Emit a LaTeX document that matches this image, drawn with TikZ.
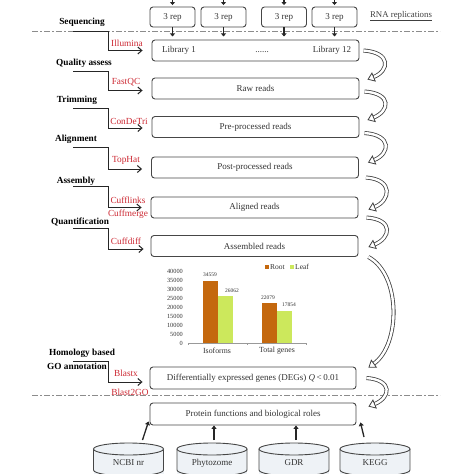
\documentclass[tikz,border=0pt]{standalone}
\usepackage{fontspec}
\setmainfont{Liberation Serif}
\usetikzlibrary{arrows.meta,calc}
\definecolor{rootc}{RGB}{196,104,14}
\definecolor{leafc}{RGB}{204,232,92}
\definecolor{toolred}{RGB}{204,40,50}
\definecolor{boxgray}{RGB}{70,70,70}
\definecolor{cylfill}{RGB}{238,242,246}
\begin{document}
\begin{tikzpicture}[x=1pt,y=-1pt,
  box/.style={draw=boxgray, line width=0.9pt, rounded corners=3pt, minimum width=207pt, minimum height=21pt, inner sep=0pt, font=\fontsize{9}{10}\selectfont, text=black!80},
  repbox/.style={box, minimum width=45pt, minimum height=20pt},
  steplab/.style={font=\bfseries\fontsize{9.3}{10}\selectfont, inner sep=0pt},
  tool/.style={text=toolred, font=\fontsize{9.3}{10}\selectfont, inner sep=0pt},
  stepline/.style={draw=black!85, line width=1pt, -{Straight Barb[length=4pt,width=7pt]}},
  hollow/.style={draw=black!75, double=white, double distance=2.4pt, line width=0.8pt, -{Triangle[open,length=7pt,width=10pt]}},
  reparrow/.style={draw=black!85, line width=1.6pt, -{Triangle[length=3pt,width=5pt]}},
  dbarrow/.style={draw=black!85, line width=1.3pt, -{Triangle[length=3.5pt,width=5pt]}},
  sepline/.style={draw=black!45, line width=0.8pt, dash pattern=on 6pt off 2pt on 2pt off 2pt},
  ticklab/.style={font=\fontsize{6.3}{7}\selectfont, inner sep=0pt, anchor=east, text=black!80},
  datalab/.style={font=\fontsize{5.5}{6}\selectfont, inner sep=0pt, text=black!80},
  catlab/.style={font=\fontsize{7.8}{9}\selectfont, inner sep=0pt, text=black!80},
  cyltext/.style={font=\fontsize{9}{10}\selectfont, inner sep=0pt, text=black!80}
]
\clip (0,0) rectangle (474,474);
\useasboundingbox (0,0) rectangle (474,474);

% separators
\draw[sepline] (32,31) -- (440,31);
\draw[sepline] (32,395) -- (440,395);

% replication boxes
\node[repbox] (rep1) at (172.5,17) {3 rep};
\node[repbox] (rep2) at (223.5,17) {3 rep};
\node[repbox] (rep3) at (284,17) {3 rep};
\node[repbox] (rep4) at (334.5,17) {3 rep};
\node[font=\fontsize{8.8}{10}\selectfont, text=black!75, inner sep=0pt] (rna) at (401,16) {\underline{RNA replications}};

\foreach \r in {rep1,rep2,rep3,rep4}{
  \coordinate (\r top) at ($(\r.north)+(0,-8)$);
  \draw[reparrow, shorten >=1.5pt] (\r top) -- (\r.north);
  \coordinate (\r bot) at ($(\r.south)+(0,9)$);
  \draw[reparrow] (\r.south) -- (\r bot);
}

% main boxes
\node[box] (lib) at (255.5,50.5) {};
\node[inner sep=0pt, font=\fontsize{9}{10}\selectfont, text=black!80] (lib1) at (179,50.5) {Library 1};
\node[inner sep=0pt, font=\fontsize{9}{10}\selectfont, text=black!80] (libd) at (262,52) {......};
\node[inner sep=0pt, font=\fontsize{9}{10}\selectfont, text=black!80] (lib12) at (332,50.5) {Library 12};
\node[box] (raw) at (255.5,88.5) {Raw reads};
\node[box] (pre) at (255.5,127) {Pre-processed reads};
\node[box] (post) at (255,167.5) {Post-processed reads};
\node[box] (ali) at (254.5,207.5) {Aligned reads};
\node[box] (ass) at (254.5,246) {Assembled reads};
\node[box, minimum width=206pt, minimum height=22pt] (deg) at (253,378) {Differentially expressed genes (DEGs) \textit{Q}\,<\,0.01};
\node[box, minimum width=206pt, minimum height=22pt] (prot) at (253,414) {Protein functions and biological roles};

% step labels
\node[steplab] (l1) at (82,22) {Sequencing};
\node[steplab] (l2) at (84,63) {Quality assess};
\node[steplab] (l3) at (77,100) {Trimming};
\node[steplab] (l4) at (76,139) {Alignment};
\node[steplab] (l5) at (76,181) {Assembly};
\node[steplab] (l6) at (80,222) {Quantification};
\node[steplab] (l7) at (82,353) {Homology based};
\node[steplab] (l8) at (77,366) {GO annotation};

% tools
\node[tool] (t1) at (127,43) {Illumina};
\node[tool] (t2) at (126,82) {FastQC};
\node[tool] (t3) at (129,121) {ConDeTri};
\node[tool] (t4) at (126,160) {TopHat};
\node[tool] (t5) at (128,200) {Cufflinks};
\node[tool] (t5b) at (128,214) {Cuffmerge};
\node[tool] (t6) at (126,241) {Cuffdiff};
\node[tool] (t7) at (126,373) {Blastx};
\node[tool] (t7b) at (130,392) {Blast2GO};

% step connectors
\coordinate (s1) at (73,31);
\coordinate (s2) at (73,71);
\coordinate (s3) at (73,108);
\coordinate (s4) at (73,147);
\coordinate (s5) at (73,186);
\coordinate (s6) at (73,228);
\coordinate (s7) at (73,361);
\draw[stepline] (s1) -- ++(35,0) |- ([xshift=-9pt]lib.west);
\draw[stepline] (s2) -- ++(35,0) |- ([xshift=-9pt,yshift=-2pt]raw.west);
\draw[stepline] (s3) -- ++(35,0) |- ([xshift=-9pt,yshift=-1pt]pre.west);
\draw[stepline] (s4) -- ++(35,0) |- ([xshift=-9pt,yshift=-1.5pt]post.west);
\draw[stepline] (s5) -- ++(35,0) |- ([xshift=-9pt]ali.west);
\draw[stepline] (s6) -- ++(35,0) |- ([xshift=-7pt,yshift=-3pt]ass.west);
\draw[stepline] (s7) -- ++(35,0) |- ([xshift=-7pt,yshift=-4pt]deg.west);

% hollow curved arrows
\draw[hollow] ([xshift=4pt]lib.east) .. controls +(28,2) and +(22,-9) .. ([xshift=8pt,yshift=-2pt]raw.north east);
\draw[hollow] ([xshift=5pt,yshift=-3pt]raw.east) .. controls +(28,2) and +(22,-9) .. ([xshift=8pt,yshift=-4pt]pre.north east);
\draw[hollow] ([xshift=5pt,yshift=-6pt]pre.east) .. controls +(28,2) and +(22,-9) .. ([xshift=9pt,yshift=-6pt]post.north east);
\draw[hollow] ([xshift=7pt,yshift=-10pt]post.east) .. controls +(28,2) and +(22,-9) .. ([xshift=10pt,yshift=-2pt]ali.east);
\draw[hollow] ([xshift=8pt,yshift=-10pt]ali.east) .. controls +(28,2) and +(22,-9) .. ([xshift=10pt,yshift=-1pt]ass.east);
\draw[hollow] ([xshift=10pt,yshift=-11pt]ass.east) .. controls +(33,18) and +(32,-23) .. ([xshift=12pt,yshift=-1pt]deg.north east);
\draw[hollow] ([xshift=10pt]deg.east) .. controls +(27,2) and +(22,-9) .. ([xshift=12pt,yshift=-4pt]prot.north east);

% bar chart
\draw[black!40, line width=0.5pt] (188,343) -- (306,343);
\foreach \x in {188,247,306} \draw[black!40, line width=0.5pt] (\x,343) -- (\x,345);
\foreach \v/\yy in {0/343,5000/334,10000/325,15000/316,20000/307,25000/298,30000/289,35000/280,40000/271}
  \node[ticklab] at (183,\yy) {\v};
\fill[rootc] (203,343) rectangle (218,280.8);
\fill[leafc] (218,343) rectangle (233,296.1);
\fill[rootc] (262,343) rectangle (277,303.3);
\fill[leafc] (277,343) rectangle (292,310.9);
\node[datalab] (d1) at (210,275) {34559};
\node[datalab] (d2) at (232,290.5) {26062};
\node[datalab] (d3) at (268,297.5) {22079};
\node[datalab] (d4) at (289,305) {17854};
\node[catlab] (c1) at (217,351) {Isoforms};
\node[catlab] (c2) at (277,351) {Total genes};
\fill[rootc] (265,265) rectangle (269,269);
\node[catlab, anchor=west, font=\fontsize{7.5}{8}\selectfont] (lg1) at (270,267) {Root};
\fill[leafc] (290,265) rectangle (294,269);
\node[catlab, anchor=west, font=\fontsize{7.5}{8}\selectfont] (lg2) at (295,267) {Leaf};

% databases (cylinders)
\foreach \cx/\nm/\txt in {128.5/ncbi/NCBI nr, 212/phyto/Phytozome, 294/gdr/GDR, 375/kegg/KEGG}{
  \fill[cylfill] (\cx-35,449) rectangle (\cx+35,480);
  \draw[boxgray, line width=0.9pt] (\cx-35,449) -- (\cx-35,470) arc[start angle=180, end angle=360, x radius=35, y radius=-6] -- (\cx+35,449);
  \draw[boxgray, line width=0.9pt, fill=cylfill] (\cx,449) ellipse [x radius=35, y radius=6];
  \node[cyltext] (\nm) at (\cx,463) {\txt};
}

% arrows to protein box
\coordinate (a1) at ($(ncbi)+(14,-23)$);
\coordinate (a2) at ($(phyto)+(2,-23)$);
\coordinate (a3) at ($(gdr)+(2,-23)$);
\coordinate (a4) at ($(kegg)+(-11,-26)$);
\draw[dbarrow] (a1) -- ($(prot.south west)+(-1,-4)$);
\draw[dbarrow] (a2) -- (a2 |- prot.south) ;
\draw[dbarrow] (a3) -- (a3 |- prot.south);
\draw[dbarrow] (a4) -- ($(prot.south east)+(4,-3)$);
\end{tikzpicture}
\end{document}
